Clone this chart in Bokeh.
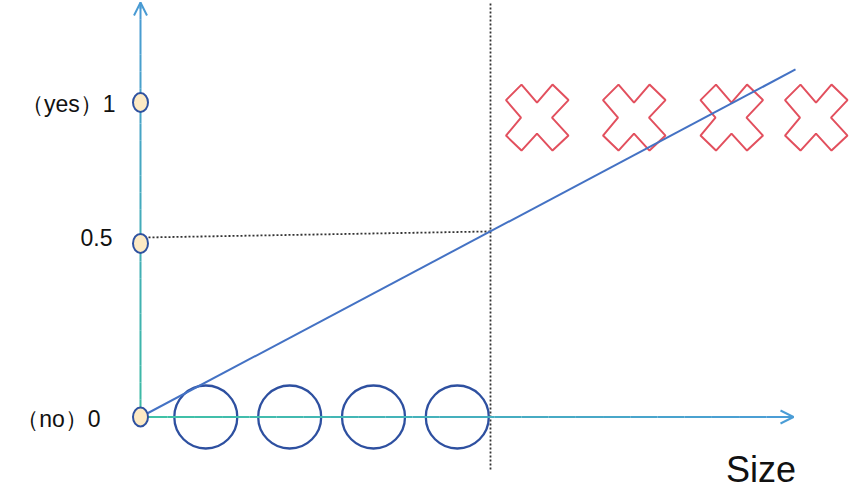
import numpy as np
from bokeh.plotting import figure
from bokeh.models import Range1d, Arrow, OpenHead
from bokeh.core.properties import value
from bokeh.embed import file_html
from bokeh.resources import INLINE

# ---- data (x: size, y: probability of "yes") ----
tick_values = [0.0, 0.552, 1.0]
tick_labels = ["（no）0", "0.5", "（yes）1"]
neg_size = [65.3, 149.2, 233.0, 316.8]     # "no" samples
neg_prob = [0.0, 0.0, 0.0, 0.0]
pos_size = [396.5, 493.5, 591.0, 675.5]    # "yes" samples
pos_prob = [0.952, 0.952, 0.952, 0.952]
fit_size = [0.0, 655.0]
fit_prob = [0.0, 1.105]
threshold_size = 350.0
threshold_prob = [0.571, 0.590]
x_axis_end = 653.0
y_axis_end = 1.318
x_title = "Size"

# ---- layout ----
W, H = 849, 489
SY = 314.5  # pixels per probability unit
p = figure(width=W, height=H, output_backend="svg", toolbar_location=None,
           x_range=Range1d(-140, 709), y_range=Range1d(-0.2305, 1.3243),
           min_border=0, outline_line_color=None)
p.axis.visible = False
p.grid.visible = False
p.background_fill_color = "white"
p.border_fill_color = "white"

# crosses (yes samples) as outlined X polygons
tx = np.array([-31, -15.5, 0, 15.5, 31.5, 15, 31.5, 15.5, 0, -15.5, -31, -16])
ty = np.array([-17.5, -33, -15, -33, -17.5, 0, 18, 33, 16, 33, 18, 0]) / SY
xs = [list(cx + tx) for cx in pos_size]
ys = [list(cy - ty) for cy in pos_prob]
p.patches(xs, ys, fill_color="white", line_color="#e2505e", line_width=2)

# circles (no samples)
p.scatter(neg_size, neg_prob, marker="circle", size=63, fill_color=None,
          line_color="#2e50a0", line_width=2.3)

# threshold dotted lines
p.line([threshold_size, threshold_size], [1.3148, -0.170], line_color="#333333",
       line_width=1.8, line_dash="2 2")
p.line([8, threshold_size], threshold_prob, line_color="#333333",
       line_width=1.8, line_dash="2 2")

# axes with colour gradient
def hexmix(c1, c2, t):
    a = [int(c1[i:i + 2], 16) for i in (1, 3, 5)]
    b = [int(c2[i:i + 2], 16) for i in (1, 3, 5)]
    return "#%02x%02x%02x" % tuple(int(round(a[k] + (b[k] - a[k]) * t)) for k in range(3))

n = 24
ysegs = np.linspace(0, y_axis_end, n + 1)
for i in range(n):
    p.line([0, 0], [ysegs[i], ysegs[i + 1]], line_width=2,
           line_color=hexmix("#3cbaa4", "#4a9bd3", i / (n - 1)))
xsegs = np.linspace(0, x_axis_end, n + 1)
for i in range(n):
    p.line([xsegs[i], xsegs[i + 1]], [0, 0], line_width=2,
           line_color=hexmix("#40c2a6", "#4b9dd6", i / (n - 1)))
p.add_layout(Arrow(end=OpenHead(size=13, line_color="#4b9dd6", line_width=2),
                   x_start=x_axis_end - 5, y_start=0, x_end=x_axis_end, y_end=0,
                   line_color="#4b9dd6", line_width=2))
p.add_layout(Arrow(end=OpenHead(size=13, line_color="#4a9bd3", line_width=2),
                   x_start=0, y_start=y_axis_end - 0.02, x_end=0, y_end=y_axis_end,
                   line_color="#4a9bd3", line_width=2))

# fitted line
p.line(fit_size, fit_prob, line_color="#4472c4", line_width=2)

# tick markers
p.ellipse(x=[0, 0, 0], y=tick_values, width=15, height=19,
          width_units="screen", height_units="screen",
          fill_color="#fdeac4", line_color="#2f52a0", line_width=2)

# tick labels
label_x = [-40, -28, -25]
label_dy = [2, -6, 2]
for xv, yv, t, dy in zip(label_x, tick_values, tick_labels, label_dy):
    p.text(x=[xv], y=[yv], text=[t], text_font=value("Liberation Sans"),
           text_font_size="23px", text_align="right", text_baseline="middle",
           y_offset=dy, text_color="#111111")

# axis title
p.text(x=[620.5], y=[-0.167], text=[x_title], text_font=value("Liberation Sans"),
       text_font_size="36px", text_align="center", text_baseline="alphabetic",
       text_color="#111111")

open("out.html", "w").write(file_html(p, INLINE))
